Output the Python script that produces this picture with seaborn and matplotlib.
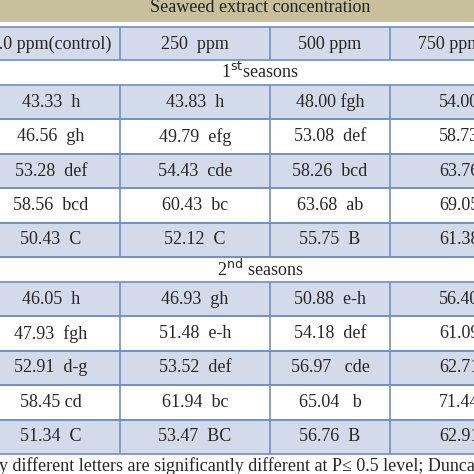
import matplotlib
matplotlib.use("Agg")
import seaborn as sns
from matplotlib import pyplot as plt

sns.set_theme(style="white")
plt.rcParams['font.family'] = ['Liberation Serif', 'DejaVu Serif']

## TABLE DATA ##
title = "Seaweed extract concentration"
col_labels = ["0.0 ppm(control)", "250  ppm", "500 ppm", "750 ppm"]
season1_c0 = ["43.33  h", "46.56  gh", "53.28  def", "58.56  bcd", "50.43  C"]
season1_c1 = ["43.83  h", "49.79  efg", "54.43  cde", "60.43  bc", "52.12  C"]
season1_c2 = ["48.00 fgh", "53.08  def", "58.26  bcd", "63.68  ab", "55.75  B"]
season1_c3 = ["54.00", "58.73", "63.76", "69.05", "61.38"]
season2_c0 = ["46.05  h", "47.93  fgh", "52.91  d-g", "58.45 cd", "51.34  C"]
season2_c1 = ["46.93  gh", "51.48  e-h", "53.52  def", "61.94  bc", "53.47  BC"]
season2_c2 = ["50.88  e-h", "54.18  def", "56.97   cde", "65.04   b", "56.76  B"]
season2_c3 = ["56.40", "61.09", "62.71", "71.44", "62.91"]
footnote = "y different letters are significantly different at P\u2264 0.5 level; Duncan"

tan = "#c8c09c"
band = "#d3dbea"
line = "#6f8fc6"
fs = 13
dpi = 100
fig = plt.figure(figsize=(4.74, 4.74), dpi=dpi)
ax = fig.add_axes([0, 0, 1, 1])
ax.set_xlim(0, 474)
ax.set_ylim(474, 0)
ax.axis("off")

vlines = [120, 270, 390]
col_x = [51, 195, 330, 439]

# title band
ax.fill_between([0, 474], 0, 22, color=tan, lw=0)
ax.text(260, 7, title, ha="center", va="center", fontsize=fs, color="#222222")

# header row
ax.fill_between([0, 474], 27, 60, color=band, lw=0)
for i, lab in enumerate(col_labels):
    if i == 0:
        ax.text(111, 44, lab, ha="right", va="center", fontsize=fs)
    elif i == 3:
        ax.text(418, 44, lab, ha="left", va="center", fontsize=fs)
    else:
        ax.text(col_x[i], 44, lab, ha="center", va="center", fontsize=fs)
for x in vlines:
    ax.plot([x, x], [27, 60], color=line, lw=1.2)
ax.plot([0, 474], [27, 27], color=line, lw=1.2)


def draw_block(top, label, cols):
    ax.text(260, top + 12, label, ha="center", va="center", fontsize=fs)
    y0 = top + 25
    h = 34.4
    ax.plot([0, 474], [top, top], color=line, lw=1.2)
    for r in range(5):
        a = y0 + r * h
        b = a + h
        if r % 2 == 0:
            ax.fill_between([0, 474], a, b, color=band, lw=0)
        ax.plot([0, 474], [a, a], color=line, lw=1.2)
        ax.plot([0, 474], [b, b], color=line, lw=1.2)
        for x in vlines:
            ax.plot([x, x], [a, b], color=line, lw=1.2)
        for i, c in enumerate(cols):
            if i == 3:
                ax.text(col_x[i], (a + b) / 2, c[r], ha="left", va="center", fontsize=fs)
            else:
                ax.text(col_x[i], (a + b) / 2, c[r], ha="center", va="center", fontsize=fs)


draw_block(60, "1$^{\\rm st}$seasons", [season1_c0, season1_c1, season1_c2, season1_c3])
draw_block(257, "2$^{\\rm nd}$ seasons", [season2_c0, season2_c1, season2_c2, season2_c3])

ax.text(-1, 466, footnote, ha="left", va="center", fontsize=fs)

fig.savefig("out.png", dpi=dpi)
